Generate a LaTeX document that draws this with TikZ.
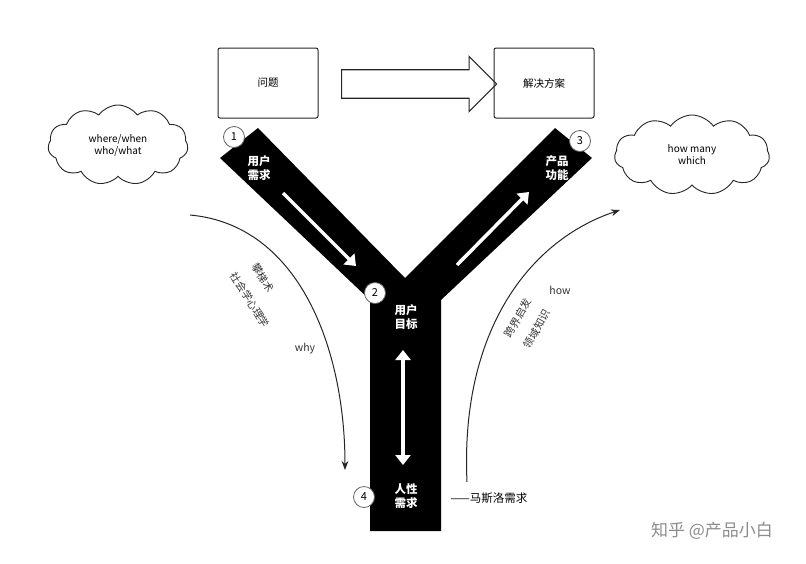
\documentclass[tikz,border=0pt]{standalone}
\usepackage{fontspec}
\setmainfont{Noto Sans CJK SC}
\usetikzlibrary{shapes.symbols,shapes.arrows,arrows.meta}
\begin{document}
\begin{tikzpicture}[x=1pt,y=-1pt,
 box/.style={draw=black!85,line width=1pt,rounded corners=2pt,minimum width=100pt,minimum height=70pt,font=\fontsize{10.5}{12}\selectfont},
 num/.style={circle,draw=black!60,line width=0.8pt,fill=white,minimum size=21pt,inner sep=0pt,font=\fontsize{11}{12}\selectfont},
 wl/.style={text=white,font=\bfseries\fontsize{11.5}{14}\selectfont,align=center},
 cl/.style={cloud,cloud puffs=11,cloud puff arc=110,aspect=1.8,draw=black!85,line width=0.9pt,align=center,font=\fontsize{10}{12}\selectfont},
 wa/.style={draw=white,line width=3.5pt,-{Triangle[length=10pt,width=15pt]}},
 curv/.style={draw=black!85,line width=1pt,-{Stealth[length=9pt]}},
 sm/.style={font=\fontsize{10.5}{12}\selectfont,text=black!80}]
\useasboundingbox (0,0) rectangle (806,563);
\fill[white] (0,0) rectangle (806,563);
\fill[black] (220,158) -- (258,128) -- (405,278) -- (555,128) -- (592,158) -- (441,300) -- (441,531) -- (370,531) -- (370,300) -- cycle;
\node[box] (q) at (268,83) {问题};
\node[box] (s) at (544,83) {解决方案};
\node[single arrow,draw=black!85,line width=1.2pt,minimum height=155pt,minimum width=55pt,single arrow head extend=4pt,inner sep=1pt,anchor=center] (big) at (412,84) {\phantom{x}};
\node[cl,minimum width=140pt,minimum height=80pt] (c1) at (118,145) {where/when\\who/what};
\node[cl,minimum width=155pt,minimum height=80pt] (c2) at (692,155) {how many\\which};
\node[num] (n1) at (234,137) {1};
\node[num] (n2) at (375,293) {2};
\node[num] (n3) at (580,141) {3};
\node[num] (n4) at (364,497) {4};
\node[wl] (l1) at (259,168) {用户\\需求};
\node[wl] (l3) at (557,168) {产品\\功能};
\node[wl] (l2) at (406,317) {用户\\目标};
\node[wl] (l4) at (406,496) {人性\\需求};
\coordinate (a1) at (283,193); \coordinate (a2) at (356,266);
\coordinate (b1) at (457,265); \coordinate (b2) at (529,192);
\coordinate (d1) at (403,350); \coordinate (d2) at (403,465);
\draw[wa] (a1) -- (a2);
\draw[wa] (b1) -- (b2);
\draw[draw=white,line width=3.5pt,{Triangle[length=10pt,width=15pt]}-{Triangle[length=10pt,width=15pt]}] (d1) -- (d2);
\coordinate (p1) at (190,215); \coordinate (p2) at (345,470);
\coordinate (r1) at (467,482); \coordinate (r2) at (620,210);
\draw[curv] (p1) .. controls (300,225) and (345,350) .. (p2);
\draw[curv] (r1) .. controls (460,330) and (530,240) .. (r2);
\node[sm,rotate=-58] (t1) at (263,278) {攀梯术};
\node[sm,rotate=-58] (t2) at (250,300) {社会学心理学};
\node[sm] (why) at (305,349) {why};
\node[sm] (how) at (560,290) {how};
\node[sm,rotate=60] (t3) at (518,318) {跨界启发};
\node[sm,rotate=60] (t4) at (537,329) {领域知识};
\node[font=\fontsize{11.5}{12}\selectfont,anchor=west] (m) at (447,498) {——马斯洛需求};
\node[font=\fontsize{17}{20}\selectfont,text=black!45] (wm) at (712,531) {知乎 @产品小白};
\end{tikzpicture}
\end{document}
